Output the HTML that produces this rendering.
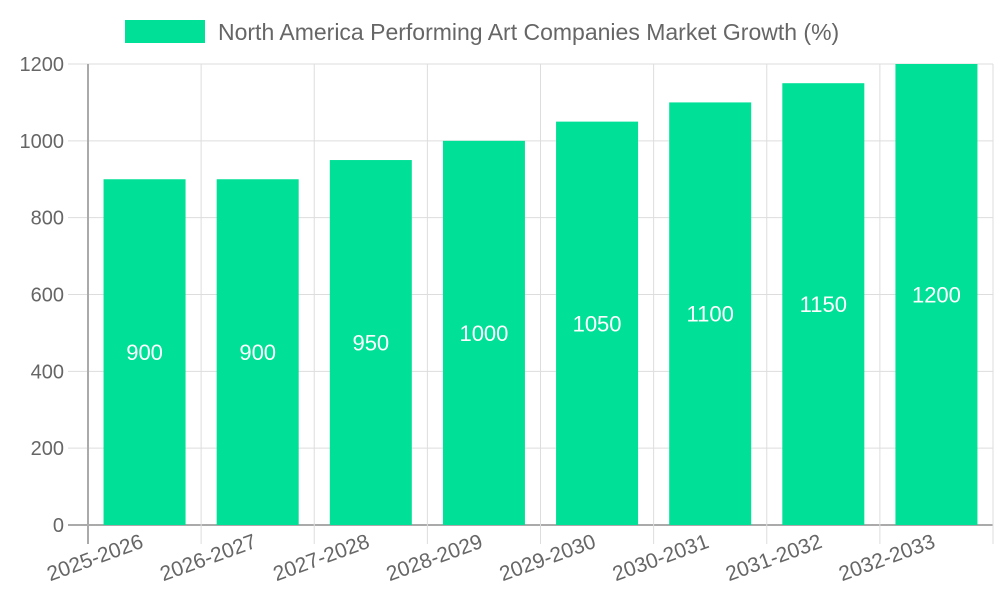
<!DOCTYPE html>
<html><head><meta charset="utf-8"><style>
body{margin:0;background:#fff}
svg text{font-family:"Liberation Sans",sans-serif}
</style></head><body>
<svg id="c" width="1000" height="600">
<rect x="125" y="20" width="80" height="23" fill="#00e096"/>
<text x="218" y="40" font-size="23" fill="#666">North America Performing Art Companies Market Growth (%)</text>
<g id="grid"></g><g id="bars"></g><g id="labels"></g>
</svg>
<script>
const categories=["2025-2026","2026-2027","2027-2028","2028-2029","2029-2030","2030-2031","2031-2032","2032-2033"];
const values=[900,900,950,1000,1050,1100,1150,1200];
const yTicks=[0,200,400,600,800,1000,1200];
const L=88,R=993,T=64,B=525,yMax=1200;
const ns="http://www.w3.org/2000/svg";
const bw=(R-L)/categories.length;
const y=v=>B-(v/yMax)*(B-T);
const x=i=>L+i*bw;
function mk(t,a,p){const e=document.createElementNS(ns,t);for(const k in a)e.setAttribute(k,a[k]);document.getElementById(p).appendChild(e);return e;}
yTicks.forEach(v=>{
 const l=mk("line",{x1:68,x2:R,y1:y(v),y2:y(v),stroke:v===0?"#aaa":"#ddd","stroke-width":v===0?2:1},"grid");
 
 
 const t=mk("text",{x:64,y:y(v)+7,"text-anchor":"end","font-size":20,fill:"#666"},"grid");
 t.textContent=v;
 
 
});
for(let i=0;i<=categories.length;i++){
 const l=mk("line",{x1:x(i),x2:x(i),y1:T,y2:B+19,stroke:i===0?"#aaa":"#ddd","stroke-width":i===0?2:1},"grid");
 
 
}
categories.forEach((c,i)=>{
 const cx=x(i)+bw/2,w=82;
 const r=mk("rect",{x:cx-w/2,y:y(values[i]),width:w,height:B-y(values[i]),fill:"#00e096"},"bars");
 
 
 const vt=mk("text",{x:cx,y:(y(values[i])+B)/2+8,"text-anchor":"middle","font-size":22,fill:"#fff"},"labels");
 vt.textContent=values[i];
 
 
 const t=mk("text",{x:cx,y:B+22,"text-anchor":"end","font-size":21,fill:"#666",transform:`rotate(-20 ${cx} ${B+22})`},"labels");
 t.textContent=c;
 
 
});
</script>
</body></html>
